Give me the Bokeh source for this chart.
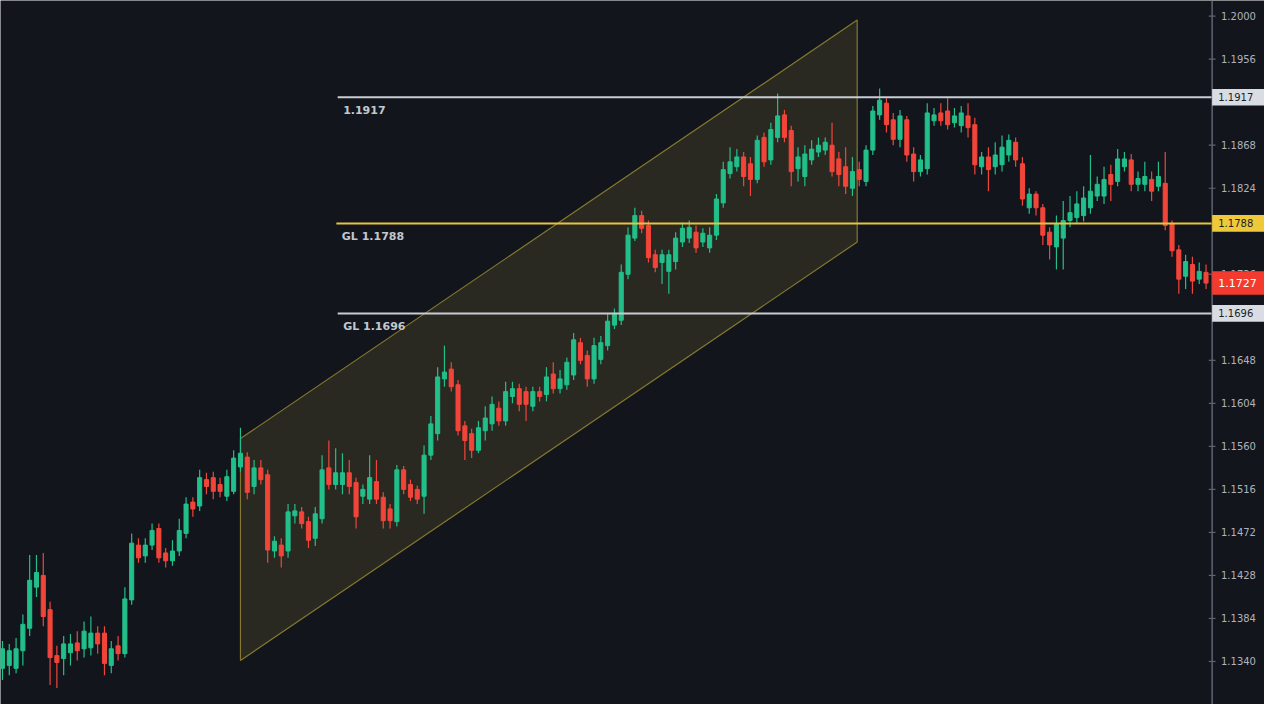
from bokeh.plotting import figure
from bokeh.models import Range1d, ColumnDataSource
from bokeh.embed import file_html
from bokeh.resources import INLINE
from bokeh.core.properties import value

# ---- OHLC data (one candle per bar) ----
opens = [1.1333, 1.1336, 1.1333, 1.1351, 1.1374, 1.1416, 1.1428, 1.1393, 1.1346, 1.1343,
         1.1349, 1.1359, 1.1353, 1.1354, 1.1369, 1.1369, 1.1336, 1.1356, 1.1348, 1.1403,
         1.1459, 1.1448, 1.1459, 1.1476, 1.1451, 1.1443, 1.1453, 1.1471, 1.1503, 1.1499,
         1.1526, 1.1528, 1.1521, 1.1509, 1.1514, 1.1539, 1.1549, 1.1519, 1.1538, 1.1531,
         1.1453, 1.1459, 1.1453, 1.1489, 1.1493, 1.1483, 1.1466, 1.1486, 1.1538, 1.1521,
         1.1521, 1.1533, 1.1523, 1.1509, 1.1506, 1.1524, 1.1508, 1.1496, 1.1483, 1.1536,
         1.1521, 1.1516, 1.1509, 1.1551, 1.1573, 1.1629, 1.1639, 1.1623, 1.1581, 1.1573,
         1.1556, 1.1576, 1.1583, 1.1599, 1.1586, 1.1611, 1.1619, 1.1616, 1.1601, 1.1616,
         1.1613, 1.1634, 1.1619, 1.1623, 1.1633, 1.1666, 1.1653, 1.1629, 1.1649, 1.1663,
         1.1684, 1.1689, 1.1736, 1.1773, 1.1796, 1.1786, 1.1756, 1.1748, 1.1739, 1.1749,
         1.1769, 1.1773, 1.1779, 1.1769, 1.1763, 1.1776, 1.1809, 1.1839, 1.1846, 1.1856,
         1.1849, 1.1833, 1.1876, 1.1853, 1.1876, 1.1899, 1.1883, 1.1844, 1.1836, 1.1853,
         1.1861, 1.1863, 1.1868, 1.1854, 1.1846, 1.1824, 1.1843, 1.1831, 1.1863, 1.1899,
         1.1911, 1.1894, 1.1874, 1.1894, 1.1859, 1.1841, 1.1844, 1.1893, 1.1901, 1.1903,
         1.1891, 1.1888, 1.1898, 1.1889, 1.1846, 1.1856, 1.1846, 1.1848, 1.1858, 1.1871,
         1.1849, 1.1804, 1.1818, 1.1804, 1.1779, 1.1764, 1.1773, 1.1791, 1.1794, 1.1796,
         1.1804, 1.1816, 1.1816, 1.1838, 1.1831, 1.1846, 1.1853, 1.1828, 1.1828, 1.1833,
         1.1826, 1.1829, 1.1788, 1.1761, 1.1734, 1.1746, 1.1731, 1.1738]
highs = [1.1361, 1.1358, 1.1364, 1.1388, 1.1449, 1.1449, 1.1451, 1.1401, 1.1356, 1.1366,
         1.1368, 1.1371, 1.1381, 1.1386, 1.1376, 1.1376, 1.1361, 1.1366, 1.1416, 1.1471,
         1.1466, 1.1466, 1.1481, 1.1481, 1.1456, 1.1464, 1.1486, 1.1508, 1.1508, 1.1536,
         1.1533, 1.1534, 1.1528, 1.1536, 1.1556, 1.1579, 1.1554, 1.1546, 1.1546, 1.1536,
         1.1468, 1.1466, 1.1501, 1.1501, 1.1498, 1.1488, 1.1498, 1.1551, 1.1566, 1.1558,
         1.1553, 1.1546, 1.1528, 1.1521, 1.1551, 1.1546, 1.1513, 1.1501, 1.1541, 1.1540,
         1.1526, 1.1520, 1.1561, 1.1591, 1.1641, 1.1663, 1.1646, 1.1628, 1.1586, 1.1578,
         1.1586, 1.1601, 1.1611, 1.1606, 1.1626, 1.1626, 1.1624, 1.1621, 1.1621, 1.1621,
         1.1641, 1.1646, 1.1638, 1.1651, 1.1676, 1.1671, 1.1658, 1.1671, 1.1673, 1.1696,
         1.1701, 1.1746, 1.1784, 1.1804, 1.1801, 1.1791, 1.1761, 1.1761, 1.1761, 1.1779,
         1.1789, 1.1791, 1.1786, 1.1783, 1.1784, 1.1818, 1.1851, 1.1866, 1.1864, 1.1861,
         1.1856, 1.1878, 1.1881, 1.1891, 1.1921, 1.1904, 1.1888, 1.1866, 1.1868, 1.1873,
         1.1876, 1.1876, 1.1891, 1.1861, 1.1866, 1.1856, 1.1851, 1.1868, 1.1908, 1.1926,
         1.1916, 1.1901, 1.1904, 1.1898, 1.1866, 1.1858, 1.1911, 1.1906, 1.1911, 1.1916,
         1.1906, 1.1908, 1.1911, 1.1896, 1.1861, 1.1866, 1.1871, 1.1878, 1.1879, 1.1876,
         1.1856, 1.1824, 1.1821, 1.1808, 1.1784, 1.1796, 1.1811, 1.1816, 1.1821, 1.1826,
         1.1858, 1.1836, 1.1846, 1.1848, 1.1864, 1.1861, 1.1859, 1.1841, 1.1851, 1.1841,
         1.1851, 1.1861, 1.1791, 1.1766, 1.1756, 1.1754, 1.1748, 1.1746]
lows = [1.1321, 1.1326, 1.1328, 1.1336, 1.1366, 1.1406, 1.1376, 1.1316, 1.1313, 1.1326,
        1.1336, 1.1341, 1.1344, 1.1346, 1.1348, 1.1326, 1.1328, 1.1341, 1.1344, 1.1398,
        1.1441, 1.1441, 1.1454, 1.1441, 1.1436, 1.1438, 1.1448, 1.1466, 1.1488, 1.1494,
        1.1511, 1.1506, 1.1508, 1.1504, 1.1511, 1.1534, 1.1506, 1.1511, 1.1521, 1.1441,
        1.1446, 1.1436, 1.1446, 1.1481, 1.1476, 1.1456, 1.1458, 1.1481, 1.1516, 1.1516,
        1.1511, 1.1511, 1.1476, 1.1501, 1.1501, 1.1501, 1.1476, 1.1476, 1.1478, 1.1511,
        1.1504, 1.1501, 1.1491, 1.1546, 1.1566, 1.1621, 1.1616, 1.1571, 1.1546, 1.1548,
        1.1553, 1.1566, 1.1576, 1.1581, 1.1581, 1.1604, 1.1596, 1.1586, 1.1596, 1.1606,
        1.1606, 1.1614, 1.1614, 1.1618, 1.1628, 1.1644, 1.1621, 1.1624, 1.1644, 1.1658,
        1.1680, 1.1684, 1.1731, 1.1770, 1.1778, 1.1748, 1.1738, 1.1726, 1.1716, 1.1741,
        1.1764, 1.1768, 1.1758, 1.1764, 1.1758, 1.1771, 1.1804, 1.1834, 1.1841, 1.1826,
        1.1816, 1.1829, 1.1846, 1.1848, 1.1871, 1.1871, 1.1826, 1.1831, 1.1826, 1.1848,
        1.1856, 1.1858, 1.1836, 1.1826, 1.1818, 1.1816, 1.1826, 1.1826, 1.1858, 1.1894,
        1.1881, 1.1868, 1.1866, 1.1851, 1.1831, 1.1836, 1.1838, 1.1888, 1.1888, 1.1884,
        1.1886, 1.1881, 1.1876, 1.1838, 1.1838, 1.1821, 1.1838, 1.1841, 1.1851, 1.1846,
        1.1806, 1.1798, 1.1796, 1.1766, 1.1751, 1.1741, 1.1741, 1.1784, 1.1788, 1.1790,
        1.1798, 1.1811, 1.1808, 1.1811, 1.1826, 1.1841, 1.1821, 1.1821, 1.1821, 1.1811,
        1.1821, 1.1781, 1.1754, 1.1716, 1.1721, 1.1716, 1.1726, 1.1721]
closes = [1.1353, 1.1351, 1.1353, 1.1378, 1.1423, 1.1431, 1.1386, 1.1344, 1.1339, 1.1358,
          1.1358, 1.1351, 1.1371, 1.1369, 1.1358, 1.1338, 1.1353, 1.1348, 1.1404, 1.1461,
          1.1446, 1.1459, 1.1474, 1.1446, 1.1443, 1.1453, 1.1474, 1.1501, 1.1496, 1.1528,
          1.1519, 1.1514, 1.1514, 1.1529, 1.1548, 1.1553, 1.1513, 1.1538, 1.1526, 1.1454,
          1.1463, 1.1448, 1.1493, 1.1494, 1.1481, 1.1464, 1.1491, 1.1536, 1.1521, 1.1533,
          1.1533, 1.1519, 1.1488, 1.1516, 1.1528, 1.1506, 1.1484, 1.1484, 1.1536, 1.1516,
          1.1508, 1.1506, 1.1551, 1.1583, 1.1631, 1.1636, 1.1621, 1.1576, 1.1566, 1.1556,
          1.1579, 1.1589, 1.1603, 1.1586, 1.1616, 1.1619, 1.1603, 1.1603, 1.1616, 1.1611,
          1.1631, 1.1619, 1.1629, 1.1646, 1.1669, 1.1648, 1.1629, 1.1663, 1.1666, 1.1688,
          1.1696, 1.1738, 1.1776, 1.1796, 1.1783, 1.1753, 1.1743, 1.1756, 1.1756, 1.1773,
          1.1783, 1.1784, 1.1763, 1.1778, 1.1776, 1.1813, 1.1843, 1.1851, 1.1856, 1.1836,
          1.1833, 1.1873, 1.1851, 1.1884, 1.1898, 1.1876, 1.1841, 1.1856, 1.1859, 1.1864,
          1.1868, 1.1871, 1.1841, 1.1838, 1.1826, 1.1841, 1.1833, 1.1863, 1.1903, 1.1914,
          1.1889, 1.1874, 1.1898, 1.1858, 1.1841, 1.1853, 1.1901, 1.1899, 1.1893, 1.1889,
          1.1898, 1.1901, 1.1886, 1.1848, 1.1856, 1.1843, 1.1858, 1.1866, 1.1873, 1.1853,
          1.1813, 1.1818, 1.1804, 1.1776, 1.1766, 1.1788, 1.1791, 1.1799, 1.1808, 1.1814,
          1.1821, 1.1828, 1.1833, 1.1828, 1.1854, 1.1854, 1.1828, 1.1834, 1.1836, 1.1821,
          1.1836, 1.1786, 1.1760, 1.1731, 1.1749, 1.1729, 1.1739, 1.1727]

# ---- drawn channel (bar index, price) ----
channel_x = [35.0, 35.0, 125.7, 125.7]
channel_y = [1.1341, 1.1568, 1.1996, 1.1769]

# ---- horizontal levels ----
level_start = [49.3, 49.1, 49.3]
level_prices = [1.1917, 1.1788, 1.1696]
level_names = ["1.1917", "GL 1.1788", "GL 1.1696"]
level_colors = ["#c9ccd3", "#e6c440", "#c9ccd3"]

# ---- price scale ticks ----
tick_values = [1.1340, 1.1384, 1.1428, 1.1472, 1.1516, 1.1560, 1.1604,
               1.1648, 1.1736, 1.1824, 1.1868, 1.1956, 1.2000]
tick_labels = ["%.4f" % t for t in tick_values]

# ---- price tags on the scale ----
tag_prices = [level_prices[0], level_prices[1], closes[-1], level_prices[2]]
tag_texts = ["%.4f" % t for t in tag_prices]
tag_fill = ["#d9dce2", "#f0c93a", "#f23b2e", "#d9dce2"]
tag_text_color = ["#1a1d24", "#1a1d24", "#ffffff", "#1a1d24"]
tag_half = [0.00085, 0.00085, 0.0012, 0.00085]
tag_font = ["10px", "10px", "11px", "10px"]

BG = "#12151c"
UP = "#22bf8a"
DOWN = "#f2453a"
AXIS_X = 177.9          # bar-index position of the price scale line
RIGHT_END = 185.6

n = len(closes)
xs = list(range(n))
src = ColumnDataSource(dict(
    x=xs,
    high=highs,
    low=lows,
    top=[max(o, c) for o, c in zip(opens, closes)],
    bottom=[min(o, c) for o, c in zip(opens, closes)],
    color=[UP if c >= o else DOWN for o, c in zip(opens, closes)],
))

p = figure(width=1264, height=704, output_backend="svg", toolbar_location=None,
           x_range=Range1d(-0.29, RIGHT_END), y_range=Range1d(1.1296, 1.2016),
           x_axis_location=None, y_axis_location=None,
           background_fill_color=BG, border_fill_color=BG,
           min_border_left=0, min_border_top=0, min_border_bottom=0, min_border_right=0)
p.outline_line_color = None
p.grid.visible = False

# channel
p.patch(channel_x, channel_y, fill_color="#b8a24a", fill_alpha=0.14,
        line_color="#8f822f", line_width=1.2, line_alpha=0.9)

# candles
p.segment(x0="x", y0="high", x1="x", y1="low", color="color", line_width=1.2, source=src)
p.vbar(x="x", width=0.6, top="top", bottom="bottom", fill_color="color",
       line_color="color", source=src)

# levels
for xs0, pr, nm, col in zip(level_start, level_prices, level_names, level_colors):
    p.segment(x0=[xs0], y0=[pr], x1=[AXIS_X], y1=[pr], line_color=col, line_width=2)
    p.text(x=[xs0 + 0.8], y=[pr - 0.0013], text=[nm], text_color="#c3c7ce",
           text_font=value("DejaVu Sans"), text_font_size="11px",
           text_font_style="bold", text_baseline="middle")

# price scale (line, ticks, labels)
p.segment(x0=[AXIS_X], y0=[1.1296], x1=[AXIS_X], y1=[1.2016],
          line_color="#5e6470", line_width=1.5)
p.segment(x0=[AXIS_X - 0.5] * len(tick_values), y0=tick_values,
          x1=[AXIS_X + 0.5] * len(tick_values), y1=tick_values,
          line_color="#5e6470", line_width=1.2)
p.text(x=[AXIS_X + 1.3] * len(tick_values), y=tick_values, text=tick_labels,
       text_color="#aeb3bc", text_font=value("DejaVu Sans"), text_font_size="10px",
       text_baseline="middle", text_align="left")

# price tags
p.quad(left=[AXIS_X] * 4, right=[RIGHT_END] * 4,
       bottom=[t - h for t, h in zip(tag_prices, tag_half)],
       top=[t + h for t, h in zip(tag_prices, tag_half)],
       fill_color=tag_fill, line_color=None)
for pr, txt, tc, fs in zip(tag_prices, tag_texts, tag_text_color, tag_font):
    p.text(x=[AXIS_X + 0.9], y=[pr], text=[txt], text_color=tc,
           text_font=value("DejaVu Sans"), text_font_size=fs,
           text_baseline="middle", text_align="left")

open("out.html", "w").write(file_html(p, INLINE))
